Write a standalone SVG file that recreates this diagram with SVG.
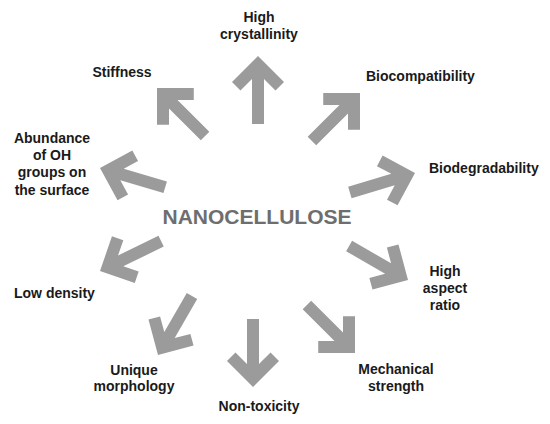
<svg xmlns="http://www.w3.org/2000/svg" xmlns:xlink="http://www.w3.org/1999/xlink" width="550" height="424" viewBox="0 0 550 424">
<style>
.lbl{font-family:"Liberation Sans",Arial,sans-serif;font-weight:bold;font-size:14px;fill:#1a1a1a}
.mid{text-anchor:middle}
.center{font-family:"Liberation Sans",Arial,sans-serif;font-weight:bold;font-size:21px;fill:#6e6e6e;text-anchor:middle}
.arrow{fill:#9b9b9b}
</style>
<defs>
<path id="arr" d="M0,0 L26,26 L17.51,34.49 L6,22.97 L6,68 L-6,68 L-6,22.97 L-17.51,34.49 L-26,26 Z"/>
</defs>
<rect width="550" height="424" fill="#ffffff"/>
<g id="connectors" class="arrow">
<use xlink:href="#arr" transform="translate(258,56) rotate(0)"/>
<use xlink:href="#arr" transform="translate(157,88) rotate(-45)"/>
<use xlink:href="#arr" transform="translate(360,93) rotate(45)"/>
<use xlink:href="#arr" transform="translate(100,168) rotate(-73.5)"/>
<use xlink:href="#arr" transform="translate(415,173) rotate(73.3)"/>
<use xlink:href="#arr" transform="translate(408,280) rotate(120)"/>
<use xlink:href="#arr" transform="translate(355,353) rotate(135)"/>
<use xlink:href="#arr" transform="translate(253,387) rotate(180)"/>
<use xlink:href="#arr" transform="translate(158,355) rotate(210)"/>
<use xlink:href="#arr" transform="translate(100,271) rotate(244)"/>
</g>
<g id="nanocellulose"><text class="center" x="257" y="224">NANOCELLULOSE</text></g>
<g id="high-crystallinity"><text class="lbl mid" x="259" y="22">High</text><text class="lbl mid" x="259" y="39">crystallinity</text></g>
<g id="stiffness"><text class="lbl mid" x="122" y="77">Stiffness</text></g>
<g id="biocompatibility"><text class="lbl" x="366" y="81">Biocompatibility</text></g>
<g id="abundance"><text class="lbl mid" x="52" y="143">Abundance</text><text class="lbl mid" x="52" y="160">of OH</text><text class="lbl mid" x="52" y="177">groups on</text><text class="lbl mid" x="52" y="195">the surface</text></g>
<g id="biodegradability"><text class="lbl" x="429" y="173">Biodegradability</text></g>
<g id="high-aspect-ratio"><text class="lbl mid" x="445" y="276">High</text><text class="lbl mid" x="445" y="293">aspect</text><text class="lbl mid" x="445" y="310">ratio</text></g>
<g id="low-density"><text class="lbl" x="14" y="298">Low density</text></g>
<g id="unique-morphology"><text class="lbl mid" x="134" y="375">Unique</text><text class="lbl mid" x="134" y="391">morphology</text></g>
<g id="non-toxicity"><text class="lbl mid" x="259" y="411">Non-toxicity</text></g>
<g id="mechanical-strength"><text class="lbl mid" x="396" y="374">Mechanical</text><text class="lbl mid" x="396" y="391">strength</text></g>
</svg>
